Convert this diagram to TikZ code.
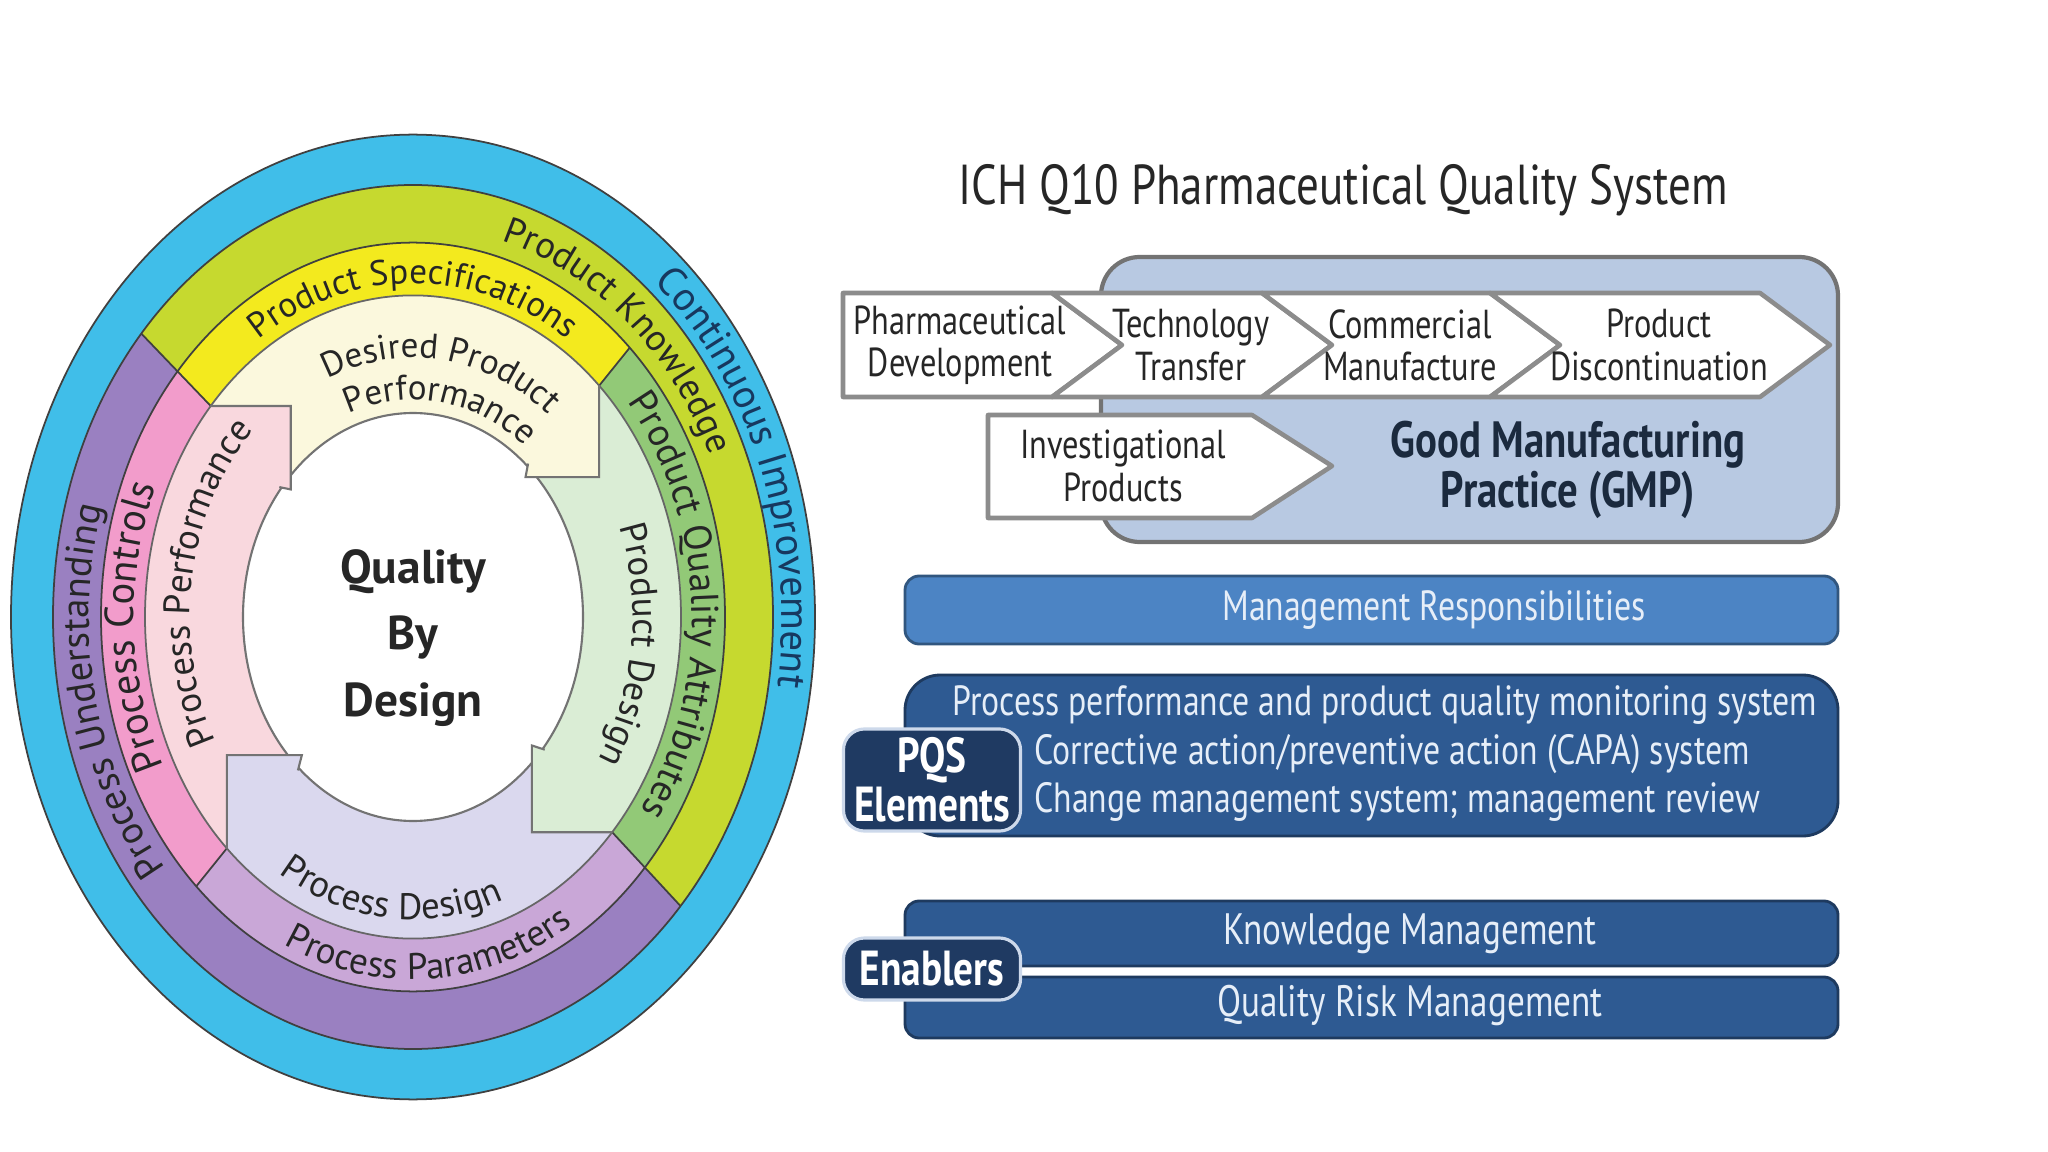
\documentclass[tikz,border=0pt]{standalone}
\usepackage{fontspec}
\setmainfont{PT Sans}
\newfontfamily\condfont{PT Sans}[FakeStretch=0.8]
\usepackage{tikz}
\usetikzlibrary{positioning,decorations.text}

\definecolor{ciblue}{HTML}{40BEE9}
\definecolor{pkgreen}{HTML}{C6D92F}
\definecolor{pupurple}{HTML}{9A80C1}
\definecolor{psyellow}{HTML}{F3EA1E}
\definecolor{pqgreen}{HTML}{92C977}
\definecolor{pppurple}{HTML}{C9A7D7}
\definecolor{pcpink}{HTML}{F29CCB}
\definecolor{dpcream}{HTML}{FBF8DD}
\definecolor{pdgreen}{HTML}{DAEDD5}
\definecolor{prlavender}{HTML}{DAD8EE}
\definecolor{pfpink}{HTML}{F9D8DE}
\definecolor{gmpblue}{HTML}{B8C9E2}
\definecolor{mrblue}{HTML}{4C84C4}
\definecolor{pqsblue}{HTML}{2E5A92}
\definecolor{lblnavy}{HTML}{1F3A62}
\definecolor{barwhite}{HTML}{E6EEF8}
\definecolor{citext}{HTML}{17385F}
\definecolor{gmptext}{HTML}{1B2A3E}

\newcommand\RingFont[1]{\fontsize{#1}{12}\selectfont\color{black!85}}
\newcommand\CiFont{\fontsize{11.5}{13}\selectfont\color{citext}}

\begin{document}
\begin{tikzpicture}[x=0.01cm,y=-0.01cm,
	ringline/.style={draw=black!75,line width=0.5pt},
	headline/.style={draw=black!55,line width=0.6pt},
	ringtext/.style={decorate,decoration={text along path,text align=center,text={#1}}},
	chevron/.style={fill=white,draw=black!45,line width=1.3pt,line join=round},
	barbox/.style={fill=#1,draw=#1!65!black,line width=0.8pt,rounded corners=4pt},
	bartext/.style={text=barwhite,font=\condfont\fontsize{12}{14}\selectfont},
	lblbox/.style={fill=lblnavy,draw=gmpblue!70!white,line width=0.9pt,rounded corners=6pt,text=white,align=center,font=\condfont\bfseries\fontsize{14}{14}\selectfont,minimum width=1.77cm,inner sep=1pt},
	steptext/.style={align=center,text=black!85,font=\condfont\fontsize{11.5}{12}\selectfont}
]
	\newcommand\Pie[3]{(0,0) -- (#1:#3) arc[start angle=#1,end angle=#2,radius=#3] -- cycle}
	\newcommand\Chevron[2]{(#1,293) -- (#2,293) -- ++(70,52) -- ++(-70,52) -- (#1,397) -- ++(70,-52) -- cycle}

	\fill[white] (0,0) rectangle (2048,1152);

	\begin{scope}[shift={(413,617)},yscale=-1.2]
		\fill[ciblue] (0,0) circle[radius=402];
		\fill[pkgreen] \Pie{139}{-42}{360};
		\fill[pupurple] \Pie{139}{318}{360};
		\fill[psyellow] \Pie{46}{139}{312};
		\fill[pcpink] \Pie{139}{226}{312};
		\fill[pppurple] \Pie{226}{318}{312};
		\fill[pqgreen] \Pie{-42}{46}{312};
		\fill[dpcream] \Pie{46}{139}{268};
		\fill[pfpink] \Pie{139}{226}{268};
		\fill[prlavender] \Pie{226}{318}{268};
		\fill[pdgreen] \Pie{-42}{46}{268};
		\draw[ringline] (0,0) circle[radius=402] (0,0) circle[radius=360] (0,0) circle[radius=312];
		\draw[ringline] (139:268) -- (139:360) (-42:268) -- (-42:360) (46:268) -- (46:312) (226:268) -- (226:312);
		\draw[ringline,draw=black!60] (0,0) circle[radius=268];
		\fill[white] (0,0) circle[radius=170];
		\draw[headline] (0,0) circle[radius=170];

		% arrow heads
		\coordinate (pfA) at (139:268); \coordinate (pfC) at (139:162); \coordinate (pfD) at (141:172);
		\fill[pfpink] (pfA) -- (pfC |- pfA) -- (pfC) -- (pfD) -- cycle;
		\draw[headline] (pfA) -- (pfC |- pfA) -- (pfC) -- (pfD);
		\coordinate (dpA) at (46:268); \coordinate (dpC) at (46:162); \coordinate (dpD) at (48:172);
		\fill[dpcream] (dpA) -- (dpA |- dpC) -- (dpC) -- (dpD) -- cycle;
		\draw[headline] (dpA) -- (dpA |- dpC) -- (dpC) -- (dpD);
		\coordinate (pdA) at (-42:268); \coordinate (pdC) at (-42:160); \coordinate (pdD) at (-40:172);
		\fill[pdgreen] (pdA) -- (pdC |- pdA) -- (pdC) -- (pdD) -- cycle;
		\draw[headline] (pdA) -- (pdC |- pdA) -- (pdC) -- (pdD);
		\coordinate (prA) at (226:268); \coordinate (prC) at (226:160); \coordinate (prD) at (228:172);
		\fill[prlavender] (prA) -- (prA |- prC) -- (prC) -- (prD) -- cycle;
		\draw[headline] (prA) -- (prA |- prC) -- (prC) -- (prD);

		\path[ringtext={|\CiFont|Continuous Improvement}] (75:369) arc[start angle=75,end angle=-32,radius=369];
		\path[ringtext={|\RingFont{10.5}|Product Knowledge}] (96:326) arc[start angle=96,end angle=6,radius=326];
		\path[ringtext={|\RingFont{11}|Process Understanding}] (253:324) arc[start angle=253,end angle=133,radius=324];
		\path[ringtext={|\RingFont{10}|Product Specifications}] (150:278) arc[start angle=150,end angle=30,radius=278];
		\path[ringtext={|\RingFont{11}|Product Quality Attributes}] (62:279) arc[start angle=62,end angle=-57,radius=279];
		\path[ringtext={|\RingFont{11.5}|Process Controls}] (242:279) arc[start angle=242,end angle=122,radius=279];
		\path[ringtext={|\RingFont{10.5}|Process Parameters}] (213:302) arc[start angle=213,end angle=333,radius=302];
		\path[ringtext={|\RingFont{10}|Desired Product}] (143:216) arc[start angle=143,end angle=23,radius=216];
		\path[ringtext={|\RingFont{10}|Performance}] (142:181) arc[start angle=142,end angle=22,radius=181];
		\path[ringtext={|\RingFont{10.5}|Product Design}] (53:220) arc[start angle=53,end angle=-67,radius=220];
		\path[ringtext={|\RingFont{10.5}|Process Performance}] (231:223) arc[start angle=231,end angle=111,radius=223];
		\path[ringtext={|\RingFont{10.5}|Process Design}] (205:252) arc[start angle=205,end angle=325,radius=252];
	\end{scope}

	\node[align=center,text=black!85,font=\bfseries\fontsize{13.5}{19}\selectfont] (qbd) at (413,638) {Quality\\By\\Design};

	\node[anchor=base,text=black!85,font=\condfont\fontsize{16}{18}\selectfont] (title) at (1343,205) {ICH Q10 Pharmaceutical Quality System};

	\draw[fill=gmpblue,draw=black!55,line width=1.2pt,rounded corners=11pt] (1101,257) rectangle (1838,542);
	\draw[chevron] (843,293) -- (1052,293) -- ++(70,52) -- ++(-70,52) -- (843,397) -- cycle;
	\draw[chevron] \Chevron{1052}{1262};
	\draw[chevron] \Chevron{1262}{1490};
	\draw[chevron] \Chevron{1490}{1760};
	\draw[chevron] (988,415) -- (1252,415) -- ++(80,51) -- ++(-80,52) -- (988,518) -- cycle;
	\node[steptext] (pharm) at (960,345) {Pharmaceutical\\Development};
	\node[steptext] (techtr) at (1191,345) {Technology\\Transfer};
	\node[steptext] (commf) at (1410,345) {Commercial\\Manufacture};
	\node[steptext] (disc) at (1659,345) {Product\\Discontinuation};
	\node[steptext] (invest) at (1123,466) {Investigational\\Products};
	\node[align=center,text=gmptext,font=\condfont\bfseries\fontsize{14.5}{13}\selectfont] (gmp) at (1568,470) {Good Manufacturing\\Practice (GMP)};

	\draw[barbox=mrblue] (905,576) rectangle (1838,644);
	\node[bartext] (mgmt) at (1434,610) {Management Responsibilities};

	\draw[barbox=pqsblue,rounded corners=10pt] (905,675) rectangle (1838,836);
	\node[bartext,anchor=west] (ppm) at (940,705) {Process performance and product quality monitoring system};
	\node[bartext,anchor=west] (capa) at (1022,754) {Corrective action/preventive action (CAPA) system};
	\node[bartext,anchor=west] (chg) at (1022,802) {Change management system; management review};
	\node[lblbox,minimum height=1.02cm] (pqs) at (932,780) {PQS\\Elements};

	\draw[barbox=pqsblue] (905,901) rectangle (1838,966);
	\node[bartext,font=\condfont\fontsize{12.5}{14}\selectfont] (km) at (1410,934) {Knowledge Management};
	\draw[barbox=pqsblue] (905,977) rectangle (1838,1038);
	\node[bartext,font=\condfont\fontsize{12.5}{14}\selectfont] (qrm) at (1410,1006) {Quality Risk Management};
	\node[lblbox,minimum height=0.62cm] (enab) at (932,969) {Enablers};
\end{tikzpicture}
\end{document}
